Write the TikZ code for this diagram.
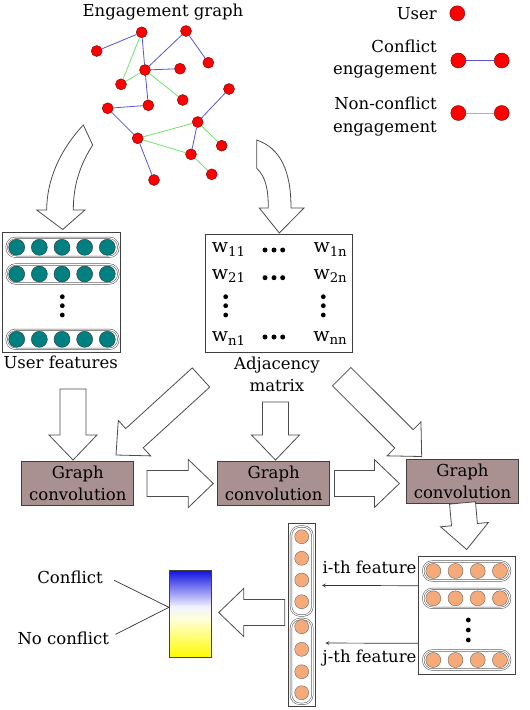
\documentclass[tikz,border=0pt]{standalone}
\usepackage{fontspec}
\setmainfont{DejaVu Serif}
\usetikzlibrary{calc}

\definecolor{convfill}{RGB}{170,145,145}
\definecolor{userteal}{RGB}{0,128,128}
\definecolor{featorange}{RGB}{246,170,122}
\definecolor{conflictblue}{RGB}{85,85,215}
\definecolor{calmgreen}{RGB}{110,225,110}
\definecolor{verdictblue}{RGB}{15,15,225}
\definecolor{verdictyellow}{RGB}{255,250,0}
\colorlet{paleblue}{blue!5}
\colorlet{paleyellow}{yellow!15}
\pgfdeclareverticalshading{verdict}{100bp}{color(0bp)=(verdictyellow); color(25bp)=(verdictyellow); color(47bp)=(paleyellow); color(54bp)=(paleblue); color(75bp)=(verdictblue); color(100bp)=(verdictblue)}

\tikzset{
  user/.style={circle, draw=red!45!black, fill=red, inner sep=0pt, minimum size=11pt},
  legenduser/.style={user, minimum size=15pt},
  conflict/.style={conflictblue, line width=0.8pt},
  calm/.style={calmgreen, line width=0.8pt},
  frame/.style={draw=black!75, line width=0.8pt, inner sep=0pt},
  pill/.style={draw=black!70, double=white, double distance=1.1pt, line width=0.5pt, rounded corners=9pt},
  tealdot/.style={circle, draw=black!80, fill=userteal, inner sep=0pt, minimum size=16pt},
  orangedot/.style={circle, draw=black!60, fill=featorange, inner sep=0pt, minimum size=15pt},
  conv/.style={frame, fill=convfill, minimum width=112pt, minimum height=44pt, align=center},
  fatline/.style={draw=black!70, line width=0.8pt, fill=white, line join=miter},
  pointer/.style={draw=black!80, line width=0.7pt},
  entry/.style={inner sep=0pt},
  weight/.style={entry, font=\fontsize{19}{22}\selectfont},
}

% hollow block arrow from #1 to #2
\newcommand{\fatarrow}[2]{%
  \coordinate (hb) at ($(#2)!25pt!(#1)$);
  \draw[fatline] ($(#1)!13pt!90:(#2)$) -- ($(hb)!13pt!90:(#2)$)
    -- ($(hb)!24pt!90:(#2)$) -- (#2) -- ($(hb)!24pt!-90:(#2)$)
    -- ($(hb)!13pt!-90:(#2)$) -- ($(#1)!13pt!-90:(#2)$) -- cycle;}

\begin{document}
\begin{tikzpicture}[x=1pt,y=-1pt,font=\fontsize{16.5}{22.3}\selectfont]
  \useasboundingbox (0,0) rectangle (530,710);

  % engagement graph
  \node (title) at (163,12) {Engagement graph};
  \foreach \n/\x/\y in {a/141.7/32.3, b/96.7/51, c/186/31, d/208.3/62.7, e/145/70,
      f/180/68.7, g/121/84.3, h/182.7/100, i/229/89, j/107.7/108.3, k/148.3/105.3,
      l/197.7/122, m/137.7/138.3, n/221.7/145.7, o/191/154.3, p/211.7/174.3, q/154/180}
    \node[user] (u\n) at (\x,\y) {};
  \foreach \s/\t in {b/a, a/e, e/c, c/d, e/f, e/k, j/k, j/m, l/i, l/o, m/q}
    \draw[conflict] (u\s) -- (u\t);
  \foreach \s/\t in {a/g, g/e, e/h, m/l, m/o, l/n, o/p}
    \draw[calm] (u\s) -- (u\t);

  % legend
  \node[entry, anchor=east] (luser) at (437,13.3) {User};
  \node[legenduser] (lu) at (457.3,13.3) {};
  \node[entry, anchor=east, align=right] (lconf) at (437,58.8) {Conflict\\engagement};
  \node[legenduser] (lc1) at (458.3,60.5) {};
  \node[legenduser] (lc2) at (501.7,60.5) {};
  \draw[conflict] (lc1) -- (lc2);
  \node[entry, anchor=east, align=right] (lcalm) at (437,116.7) {Non-conflict\\engagement};
  \node[legenduser] (ln1) at (458.3,113) {};
  \node[legenduser] (ln2) at (501.7,113) {};
  \draw[calm] (ln1) -- (ln2);

  % curved arrows out of the graph
  \draw[fatline] (83.3,125) .. controls (60,150) and (46.7,180) .. (46.7,210)
    -- (36.7,210) -- (62.7,229.5) -- (85,210) -- (73.3,210)
    .. controls (73.3,185) and (80,165) .. (92.7,145) -- cycle;
  \draw[fatline] (256.7,140) .. controls (280,148) and (291,170) .. (291,208)
    -- (304,208) -- (279.3,233) -- (259.3,208) -- (268.3,208)
    .. controls (268.3,190) and (266,177) .. (256.7,168.3) -- cycle;

  % user features
  \node[frame, minimum width=118pt, minimum height=120pt] (ufbox) at (61.7,292.7) {};
  \foreach \y [count=\r] in {247.3,274,339.3} {
    \draw[pill] (6.7,\y-9.5) rectangle (118.3,\y+9.5);
    \foreach \k in {0,...,4}
      \node[tealdot] (uf\r\k) at (16.7+22.65*\k,\y) {};
  }
  \foreach \y in {296.7,305.7,315}
    \fill (62.3,\y) circle[radius=2.4pt];
  \node (uflabel) at (60.7,362) {User features};

  % adjacency matrix
  \node[frame, minimum width=147.7pt, minimum height=118.7pt] (adjbox) at (278.9,293.4) {};
  \node[weight, anchor=base west] (w11) at (211.7,252.5) {w\textsubscript{11}};
  \node[weight, anchor=base west] (w21) at (211.7,279) {w\textsubscript{21}};
  \node[weight, anchor=base west] (wn1) at (211.7,341.5) {w\textsubscript{n1}};
  \node[weight, anchor=base east] (w1n) at (347.5,252.5) {w\textsubscript{1n}};
  \node[weight, anchor=base east] (w2n) at (347.5,279) {w\textsubscript{2n}};
  \node[weight, anchor=base east] (wnn) at (347.5,341.5) {w\textsubscript{nn}};
  \foreach \y in {250,277.7,337}
    \foreach \x in {265,274,282.7}
      \fill (\x,\y) circle[radius=2.5pt];
  \foreach \x in {225.7,323.3}
    \foreach \y in {296.7,305.7,315}
      \fill (\x,\y) circle[radius=2.4pt];
  \node[align=center] (adjlabel) at (277,374) {Adjacency\\matrix};

  % graph convolutions
  \node[conv] (conv1) at (77.8,483.5) {Graph\\convolution};
  \node[conv] (conv2) at (273.7,483.5) {Graph\\convolution};
  \node[conv] (conv3) at (462.5,481.3) {Graph\\convolution};

  % output features
  \node[frame, minimum width=96.7pt, minimum height=117.3pt] (outbox) at (466.7,615.3) {};
  \foreach \y [count=\r] in {571,598.3,660} {
    \draw[pill] (423.3,\y-9.5) rectangle (510,\y+9.5);
    \foreach \k in {0,...,3}
      \node[orangedot] (of\r\k) at (433.3+22.2*\k,\y) {};
  }
  \foreach \y in {620,630,640}
    \fill (468.3,\y) circle[radius=2.4pt];

  % concatenated column
  \node[frame, minimum width=26.7pt, minimum height=183.4pt] (concat) at (301.7,615) {};
  \draw[pill] (291,526.5) rectangle (312.4,615.5);
  \draw[pill] (291,619) rectangle (312.4,703.8);
  \foreach \y [count=\r] in {536.7,558.3,580,601.7,626.7,649.3,671.7,692.7}
    \node[orangedot, minimum size=14pt] (cf\r) at (301.7,\y) {};

  \node[entry, anchor=east] (ilabel) at (416.7,567.3) {i-th feature};
  \node[entry, anchor=east] (jlabel) at (416.7,658.3) {j-th feature};
  \draw[pointer, ->, >=stealth, shorten >=6.5pt] ([yshift=29.6pt]outbox.west) -- ([yshift=29.6pt]concat.east);
  \draw[pointer, ->, >=stealth, shorten >=10pt] ([yshift=-28pt]outbox.west) -- ([yshift=-28pt]concat.east);

  % verdict
  \node[frame, shading=verdict, minimum width=42.4pt, minimum height=87.3pt] (score) at (190.5,613.7) {};
  \node (conf) at (70,577.3) {Conflict};
  \node (noconf) at (63.3,638.3) {No conflict};
  \draw[pointer] ([xshift=8pt,yshift=-3pt]conf.east) -- ([yshift=6.4pt]score.west);
  \draw[pointer] ([xshift=3pt,yshift=4pt]noconf.east) -- ([yshift=6.4pt]score.west);

  % block arrows
  \coordinate (uf-t) at (73,389);
  \coordinate (uf-h) at (73,460);
  \coordinate (adj-t1) at (201,377.5);
  \coordinate (adj-h1) at (116,455);
  \coordinate (adj-t2) at (275.5,402);
  \coordinate (adj-h2) at (275.5,460);
  \coordinate (adj-t3) at (341.7,376.7);
  \coordinate (adj-h3) at (421.7,456.5);
  \coordinate (c12-t) at ([xshift=12.7pt]conv1.east);
  \coordinate (c12-h) at ([xshift=-4pt]conv2.west |- c12-t);
  \coordinate (c23-t) at ([xshift=4.3pt]conv2.east);
  \coordinate (c23-h) at ([xshift=-6.7pt]conv3.west |- c23-t);
  \coordinate (c3-t) at ([yshift=0.8pt]conv3.south);
  \coordinate (c3-h) at ([yshift=6.7pt]outbox.north);
  \coordinate (out-t) at ([xshift=-3.3pt,yshift=2.5pt]concat.west);
  \coordinate (out-h) at ([xshift=6.6pt]score.east |- out-t);
  \foreach \t/\h in {uf-t/uf-h, adj-t1/adj-h1, adj-t2/adj-h2, adj-t3/adj-h3,
      c12-t/c12-h, c23-t/c23-h, c3-t/c3-h, out-t/out-h}
    {\fatarrow{\t}{\h}}

\end{tikzpicture}
\end{document}
